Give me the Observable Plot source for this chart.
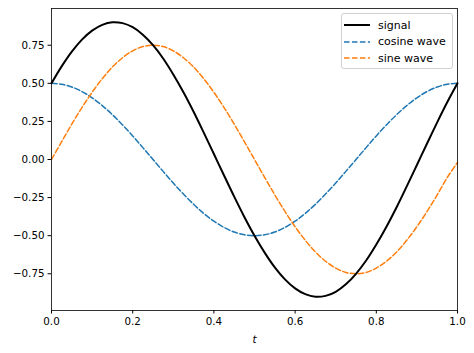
<!DOCTYPE html>
<html>
<head>
<meta charset="utf-8">
<script src="https://cdn.jsdelivr.net/npm/d3@7"></script>
<script src="https://cdn.jsdelivr.net/npm/@observablehq/plot@0.6"></script>
<style>
  html, body { margin: 0; padding: 0; background: #fff; }
  #wrap { position: relative; width: 474px; height: 353px; font-family: "DejaVu Sans", sans-serif; }
  #legend { position: absolute; left: 341px; top: 13px; width: 110px; height: 54px;
    border: 1px solid #d0d0d0; border-radius: 3px; background: rgba(255,255,255,0.8);
    font-size: 11px; color: #000; }
  .row { position: absolute; left: 0; height: 14px; display: flex; align-items: center; }
  .row svg { margin-left: 2px; margin-right: 8px; }
</style>
</head>
<body>
<div id="wrap"></div>
<script>
const tValues = [0, 0.025, 0.05, 0.075, 0.1, 0.125, 0.15, 0.175, 0.2, 0.225, 0.25, 0.275, 0.3, 0.325, 0.35, 0.375, 0.4, 0.425, 0.45, 0.475, 0.5, 0.525, 0.55, 0.575, 0.6, 0.625, 0.65, 0.675, 0.7, 0.725, 0.75, 0.775, 0.8, 0.825, 0.85, 0.875, 0.9, 0.925, 0.95, 0.975, 1];
const signal = [0.5, 0.611, 0.708, 0.787, 0.846, 0.884, 0.901, 0.895, 0.868, 0.819, 0.75, 0.663, 0.558, 0.441, 0.313, 0.176, 0.036, -0.105, -0.244, -0.377, -0.5, -0.611, -0.708, -0.787, -0.846, -0.884, -0.901, -0.895, -0.868, -0.819, -0.75, -0.663, -0.558, -0.441, -0.313, -0.176, -0.036, 0.105, 0.244, 0.377, 0.5];
const cosineWave = [0.5, 0.494, 0.476, 0.446, 0.405, 0.354, 0.294, 0.227, 0.155, 0.078, 0, -0.078, -0.155, -0.227, -0.294, -0.354, -0.405, -0.446, -0.476, -0.494, -0.5, -0.494, -0.476, -0.446, -0.405, -0.354, -0.294, -0.227, -0.155, -0.078, 0, 0.078, 0.155, 0.227, 0.294, 0.354, 0.405, 0.446, 0.476, 0.494, 0.5];
const sineWave = [0, 0.117, 0.232, 0.341, 0.441, 0.530, 0.607, 0.668, 0.713, 0.741, 0.75, 0.741, 0.713, 0.668, 0.607, 0.530, 0.441, 0.341, 0.232, 0.117, 0, -0.117, -0.232, -0.341, -0.441, -0.530, -0.607, -0.668, -0.713, -0.741, -0.75, -0.741, -0.713, -0.668, -0.607, -0.530, -0.441, -0.341, -0.232, -0.117, -0.02];
const xTicks = [0, 0.2, 0.4, 0.6, 0.8, 1.0];
const yTicks = [-0.75, -0.5, -0.25, 0, 0.25, 0.5, 0.75];
const seriesNames = ["signal", "cosine wave", "sine wave"];
const seriesColors = ["#000000", "#1f77b4", "#ff7f0e"];

const rows = tValues.map((t, i) => ({t, signal: signal[i], cosine: cosineWave[i], sine: sineWave[i]}));
const fmt = d3.format(".2f");

const chart = Plot.plot({
  width: 474,
  height: 353,
  marginLeft: 51,
  marginRight: 17,
  marginTop: 8,
  marginBottom: 43,
  style: {fontFamily: "'DejaVu Sans', sans-serif", fontSize: "10.3px", color: "#000", background: "#fff"},
  x: {domain: [0, 1], ticks: xTicks, tickFormat: d3.format(".1f"), tickSize: 3.5, tickPadding: 3.5, label: null},
  y: {domain: [-0.991, 0.991], ticks: yTicks, tickFormat: fmt, tickSize: 3.5, tickPadding: 3.5, label: null},
  marks: [
    Plot.line(rows, {x: "t", y: "cosine", stroke: seriesColors[1], strokeWidth: 1.5, strokeDasharray: "5.55,2.4", curve: "catmull-rom"}),
    Plot.line(rows, {x: "t", y: "sine", stroke: seriesColors[2], strokeWidth: 1.5, strokeDasharray: "5.55,2.4", curve: "catmull-rom"}),
    Plot.line(rows, {x: "t", y: "signal", stroke: seriesColors[0], strokeWidth: 2, curve: "catmull-rom"}),
    Plot.frame({stroke: "#000", strokeWidth: 0.8}),
    Plot.text(["t"], {frameAnchor: "bottom", dy: 29, lineAnchor: "middle", fontStyle: "italic", fontSize: 10.3})
  ]
});

const wrap = document.getElementById("wrap");
wrap.appendChild(chart);

const legend = document.createElement("div");
legend.id = "legend";
seriesNames.forEach((name, i) => {
  const row = document.createElement("div");
  row.className = "row";
  row.style.top = (4 + i * 16.5) + "px";
  const dash = i === 0 ? "" : ' stroke-dasharray="5.55,2.4"';
  const sw = i === 0 ? 2 : 1.5;
  row.innerHTML = `<svg width="26" height="6"><line x1="0" x2="26" y1="3" y2="3" stroke="${seriesColors[i]}" stroke-width="${sw}"${dash}/></svg><span>${name}</span>`;
  legend.appendChild(row);
});
wrap.appendChild(legend);
</script>
</body>
</html>
